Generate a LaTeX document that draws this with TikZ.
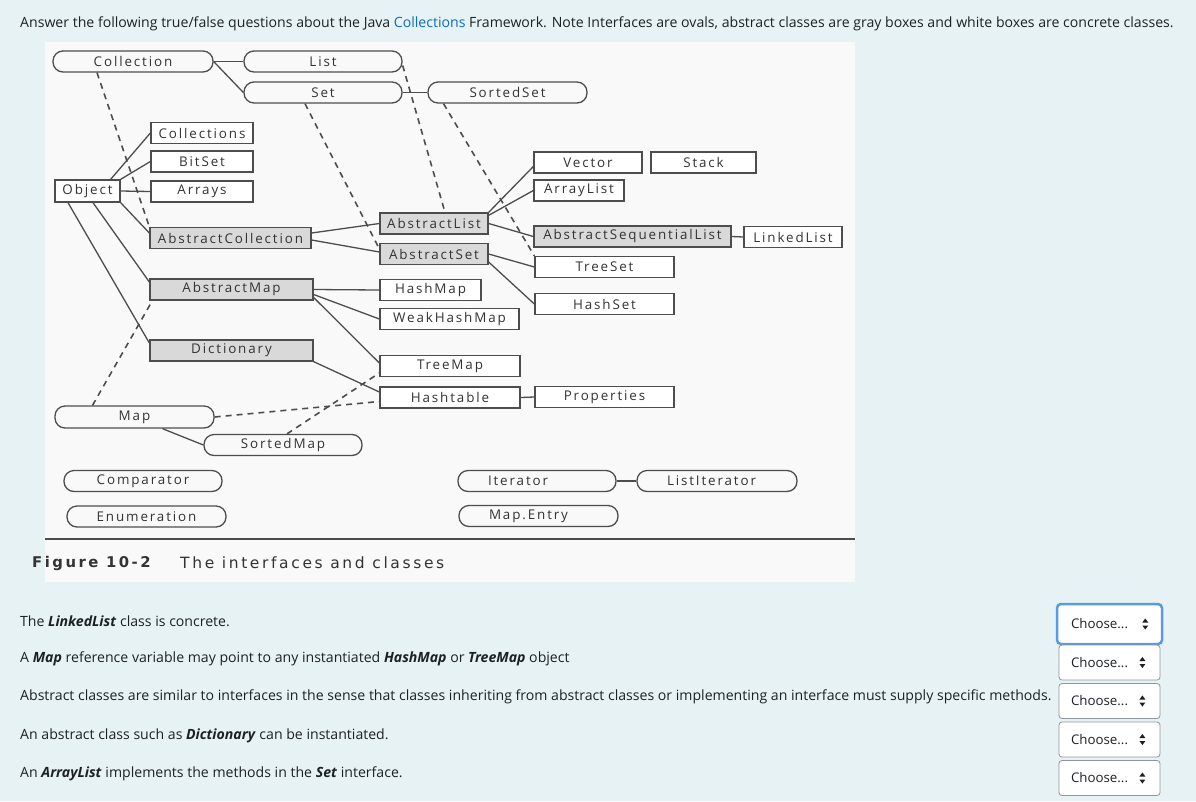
\documentclass[tikz,border=0pt]{standalone}
\usepackage{fontspec}
\setmainfont{Open Sans}
\newfontfamily\figfont[LetterSpace=14]{Open Sans}
\newfontfamily\capfont[LetterSpace=17]{DejaVu Sans}
\definecolor{pagebg}{HTML}{E6F2F4}
\definecolor{figbg}{HTML}{F9F9F9}
\definecolor{pagetext}{HTML}{1D2125}
\definecolor{linkblue}{HTML}{0F6CBF}
\definecolor{linegray}{HTML}{4D4D4D}
\definecolor{figtext}{HTML}{333333}
\definecolor{absgray}{HTML}{D9D9D9}
\definecolor{selgray}{HTML}{8F959E}
\definecolor{selblue}{HTML}{5A9BE0}
\begin{document}
\begin{tikzpicture}[x=1pt,y=-1pt,
    iface/.style={draw=linegray,line width=1.3pt,rounded corners=10pt,
      minimum height=21pt,inner sep=0pt,text=figtext,
      font=\figfont\fontsize{13.4}{15}\selectfont},
    ifaceleft/.style={iface,inner xsep=30pt,align=left,text width=#1},
    cls/.style={draw=linegray,line width=1.3pt,fill=white,minimum height=21pt,
      inner sep=0pt,text=figtext,font=\figfont\fontsize{13.4}{15}\selectfont},
    abscls/.style={cls,fill=absgray},
    link/.style={draw=linegray,line width=1.3pt},
    impl/.style={link,line width=1.6pt,dash pattern=on 6pt off 5pt},
    question/.style={anchor=west,inner sep=0pt,text=pagetext,
      font=\fontsize{14.1}{17}\selectfont},
    select/.style={draw=selgray,line width=0.8pt,rounded corners=3pt,fill=white,
      minimum height=35pt,text width=77pt,inner xsep=12pt,align=left,
      text=pagetext,font=\fontsize{13.3}{16}\selectfont}]
  % page and figure
  \fill[pagebg] (0,0) rectangle (1196,801);
  \useasboundingbox (0,0) rectangle (1196,801);
  \fill[figbg] (45,42) rectangle (855,582);
  \node[question] (intro) at (20,24) {Answer the following true/false questions
    about the Java \textcolor{linkblue}{Collections} Framework. Note Interfaces are
    ovals, abstract classes are gray boxes and white boxes are concrete classes.};
  % interfaces
  \node[iface,minimum width=160pt] (coll) at (133,61.5) {Collection};
  \node[iface,minimum width=158pt] (list) at (323,61.5) {List};
  \node[iface,minimum width=158pt] (set) at (323,92.5) {Set};
  \node[iface,minimum width=159pt] (sset) at (507.5,92.5) {SortedSet};
  \node[iface,minimum width=159pt,minimum height=22pt] (map) at (134.5,417) {Map};
  \node[iface,minimum width=158pt] (smap) at (283,445) {SortedMap};
  \node[iface,minimum width=158pt] (comp) at (143,481) {Comparator};
  \node[iface,minimum width=159pt] (enum) at (146.5,516.5) {Enumeration};
  \node[ifaceleft=98pt] (iter) at (537,481) {Iterator};
  \node[ifaceleft=100pt] (liter) at (717,481) {ListIterator};
  \node[ifaceleft=99pt] (entry) at (538.5,516) {Map.Entry};
  % classes
  \node[cls,minimum width=65pt,minimum height=22pt] (obj) at (87.5,191) {Object};
  \node[cls,minimum width=102pt] (colls) at (202,133) {Collections};
  \node[cls,minimum width=102pt] (bitset) at (202,161.5) {BitSet};
  \node[cls,minimum width=102pt] (arrays) at (202,191.5) {Arrays};
  \node[abscls,minimum width=161pt] (abscoll) at (230.5,238) {AbstractCollection};
  \node[abscls,minimum width=163pt] (absmap) at (231.5,289.5) {AbstractMap};
  \node[abscls,minimum width=163pt] (dict) at (231.5,350.5) {Dictionary};
  \node[abscls,minimum width=108pt] (abslist) at (434,223.5) {AbstractList};
  \node[abscls,minimum width=108pt] (absset) at (434,254) {AbstractSet};
  \node[cls,minimum width=101pt] (hashmap) at (430.5,290) {HashMap};
  \node[cls,minimum width=139pt] (weak) at (449.5,319) {WeakHashMap};
  \node[cls,minimum width=140pt] (treemap) at (450,366) {TreeMap};
  \node[cls,minimum width=140pt] (htable) at (450,397.5) {Hashtable};
  \node[cls,minimum width=139pt] (props) at (604.5,397) {Properties};
  \node[cls,minimum width=108pt] (vector) at (588,162.5) {Vector};
  \node[cls,minimum width=105pt] (stack) at (703.5,162.5) {Stack};
  \node[cls,minimum width=90pt] (alist) at (579,190.5) {ArrayList};
  \node[abscls,minimum width=197pt] (aslist) at (632.5,236.5) {AbstractSequentialList};
  \node[cls,minimum width=98pt] (llist) at (793,237) {LinkedList};
  \node[cls,minimum width=139pt] (treeset) at (604.5,267) {TreeSet};
  \node[cls,minimum width=139pt] (hashset) at (604.5,304) {HashSet};
  % extends
  \draw[link] (coll.east) -- (list.west);
  \draw[link] (coll.east) -- (set.west);
  \draw[link] (set.east) -- (sset.west);
  \draw[link] ([xshift=-10]obj.north east) -- (colls.west);
  \draw[link] (obj.north east) -- (bitset.west);
  \draw[link] (obj.east) -- (arrays.west);
  \draw[link] (obj.south east) -- ([yshift=5]abscoll.west);
  \draw[link] ([xshift=5.5]obj.south) -- ([yshift=7.5]absmap.west);
  \draw[link] ([xshift=-19.5]obj.south) -- ([yshift=7.5]dict.west);
  \draw[link] ([yshift=5]abscoll.east) -- (abslist.west);
  \draw[link] ([yshift=-2]abscoll.east) -- ([yshift=2]absset.west);
  \draw[link] (abslist.north east) -- ([yshift=-4]vector.west);
  \draw[link] ([yshift=-3]abslist.north east) -- (alist.west);
  \draw[link] (abslist.east) -- (aslist.west);
  \draw[link] (aslist.east) -- (llist.west);
  \draw[link] (absset.east) -- (treeset.west);
  \draw[link] ([yshift=-8]absset.east) -- (hashset.west);
  \draw[link] (absmap.east) -- (hashmap.west);
  \draw[link] ([yshift=-5]absmap.east) -- (weak.west);
  \draw[link] ([yshift=-8]absmap.east) -- ([yshift=3]treemap.west);
  \draw[link] (dict.south east) -- ([yshift=5.5]htable.west);
  \draw[link] (htable.east) -- (props.west);
  \draw[link] ([xshift=28]map.south) -- (smap.west);
  \draw[link] (iter.east) -- (liter.west);
  % implements
  \draw[impl] ([xshift=-36]coll.south) -- (abscoll.north west);
  \draw[impl] ([xshift=-18]set.south) -- ([yshift=5]absset.west);
  \draw[impl] ([yshift=-4]list.east) -- ([xshift=11]abslist.north);
  \draw[impl] ([xshift=-64]sset.south) -- (treeset.north west);
  \draw[impl] ([xshift=-42]map.north) -- ([xshift=3]absmap.south west);
  \draw[impl] (map.east) -- ([yshift=-4]htable.west);
  \draw[impl] ([xshift=4]smap.north) -- ([yshift=-7]treemap.west);
  % caption
  \draw[linegray,line width=2.5pt] (45,539) -- (855,539);
  \node[anchor=west,inner sep=0pt,text=figtext,font=\capfont\bfseries\fontsize{14.8}{17}\selectfont]
    (figno) at (32,563) {Figure 10-2};
  \node[anchor=west,inner sep=0pt,text=figtext,font=\capfont\fontsize{15.5}{18}\selectfont]
    (figtitle) at (180,563) {The interfaces and classes};
  % questions
  \node[question] (q1) at (20,621) {The \textbf{\textit{LinkedList}} class is concrete.};
  \node[question] (q2) at (20,659) {A \textbf{\textit{Map}} reference variable may point
    to any instantiated \textbf{\textit{HashMap}} or \textbf{\textit{TreeMap}} object};
  \node[question] (q3) at (20,697) {Abstract classes are similar to interfaces in the
    sense that classes inheriting from abstract classes or implementing an interface
    must supply specific methods.};
  \node[question] (q4) at (20,736) {An abstract class such as \textbf{\textit{Dictionary}}
    can be instantiated.};
  \node[question] (q5) at (20,774) {An \textbf{\textit{ArrayList}} implements the methods
    in the \textbf{\textit{Set}} interface.};
  \node[select,draw=selblue,line width=2.5pt,rounded corners=4pt,minimum height=40pt,
    inner xsep=14pt] (sel1) at (1109.5,624) {Choose...};
  \foreach \n/\yy in {2/662.5,3/701,4/739.5,5/778}
    \node[select] (sel\n) at (1109.5,\yy) {Choose...};
  \foreach \n in {1,...,5}{
    \fill[pagetext] ([xshift=-21,yshift=1.5]sel\n.east) -- ++(6,0) -- ++(-3,-4) -- cycle;
    \fill[pagetext] ([xshift=-21,yshift=-1.5]sel\n.east) -- ++(6,0) -- ++(-3,4) -- cycle;
  }
\end{tikzpicture}
\end{document}
